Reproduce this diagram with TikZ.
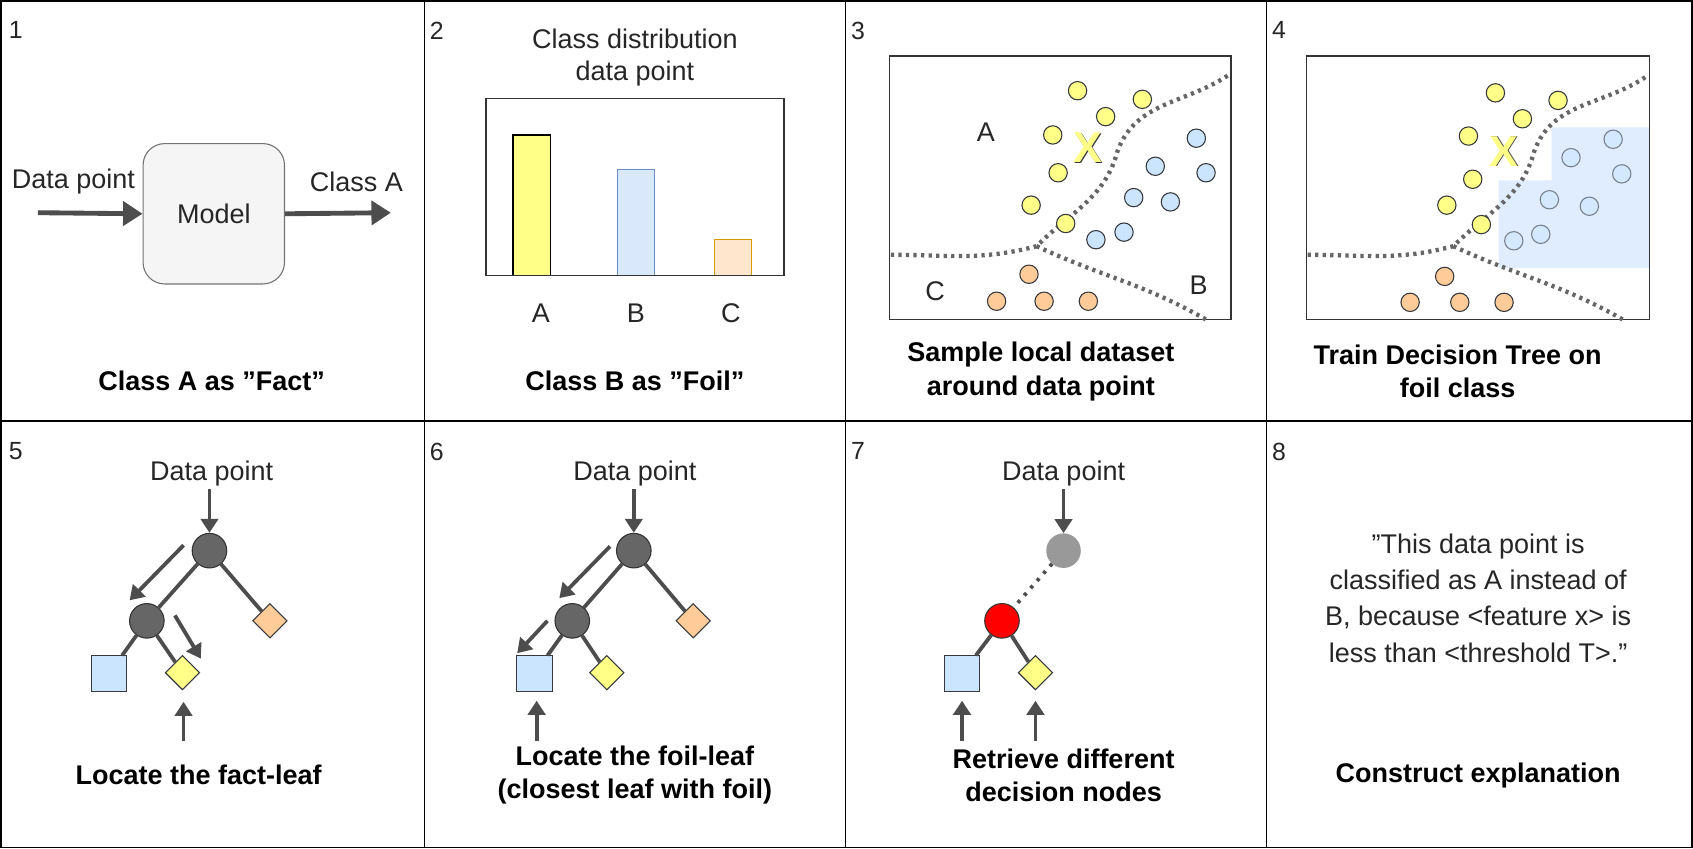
\documentclass[tikz,border=0pt]{standalone}
\usepackage{fontspec}
\setmainfont{Liberation Sans}[Ligatures=NoCommon]
\usetikzlibrary{arrows.meta,shapes.geometric}
\definecolor{ar}{HTML}{4D4D4D}
\definecolor{yl}{HTML}{FFFF88}
\definecolor{bl}{HTML}{CCE5FF}
\definecolor{og}{HTML}{FFCC99}
\definecolor{st}{HTML}{36393D}
\definecolor{bbf}{HTML}{DAE8FC}
\definecolor{bbs}{HTML}{6C8EBF}
\definecolor{cbf}{HTML}{FFE6CC}
\definecolor{cbs}{HTML}{D79B00}
\newcommand{\dq}{\symbol{34}}
\begin{document}
\begin{tikzpicture}[x=1pt,y=-1pt,
 txt/.style={font=\fontsize{25}{28}\selectfont, text=black!85, inner sep=0pt},
 capt/.style={font=\fontsize{25}{31}\selectfont\bfseries, align=center, inner sep=0pt},
 num/.style={font=\fontsize{23}{26}\selectfont, text=black!85, anchor=north west, inner sep=0pt},
 arr/.style={draw=ar, line width=4.5pt, -{Triangle[length=18pt,width=22pt]}},
 sarr/.style={draw=ar, line width=3.5pt, -{Triangle[length=13pt,width=16pt]}},
 edge/.style={draw=ar, line width=3.5pt},
 dc/.style={circle, minimum size=32pt, inner sep=0pt, fill=black!60, draw=black!80, line width=1pt},
 pt/.style={circle, minimum size=17pt, inner sep=0pt, draw=st, line width=1pt},
 yp/.style={pt, fill=yl}, bp/.style={pt, fill=bl}, op/.style={pt, fill=og},
 lsq/.style={rectangle, minimum size=33pt, inner sep=0pt, fill=bl, draw=st, line width=1pt},
 ldm/.style={diamond, minimum size=32pt, inner sep=0pt, draw=st, line width=1pt},
 dline/.style={draw=black!60, line width=4pt, dash pattern=on 3pt off 4pt},
 box/.style={draw=black!80, line width=1.2pt},
 bx/.style={font=\fontsize{40}{40}\selectfont\bfseries, inner sep=0pt}]
\useasboundingbox (0,0) rectangle (1568,786);
\draw[line width=1.5pt] (1,1) rectangle (1567,785);
\draw[line width=1.2pt] (1,390) -- (1567,390) (393,1) -- (393,785) (783,1) -- (783,785) (1173,1) -- (1173,785);
% panel 1
\node[num] (n1) at (8,20) {1};
\node[rectangle, rounded corners=20pt, minimum width=131pt, minimum height=130pt, fill=black!4, draw=black!55, line width=1pt, txt] (model) at (198,198) {Model};
\coordinate (in) at (35,197);
\coordinate (out) at (362,197);
\draw[arr] (in) -- (model.west);
\draw[arr] (model.east) -- (out);
\node[txt] (dp1) at (68,168) {Data point};
\node[txt] (ca) at (330,168) {Class A};
\node[capt] (c1) at (196,353) {Class A as \dq Fact\dq};
% panel 2
\node[num] (n2) at (398,20) {2};
\node[txt, align=center, font=\fontsize{25}{30}\selectfont] (t2) at (588,53) {Class distribution\\data point};
\draw[box] (450,91) rectangle (726,255);
\draw[fill=yl, draw=black, line width=1.2pt] (475,125) rectangle (510,255);
\draw[fill=bbf, draw=bbs, line width=1.2pt] (572,157) rectangle (606,255);
\draw[fill=cbf, draw=cbs, line width=1.2pt] (662,222) rectangle (696,255);
\draw[line width=1.2pt, black!80] (450,255) -- (726,255);
\node[txt] (la) at (501,290) {A};
\node[txt] (lb) at (589,290) {B};
\node[txt] (lc) at (677,290) {C};
\node[capt] (c2) at (588,353) {Class B as \dq Foil\dq};
% panel 3
\node[num] (n3) at (788,20) {3};
\draw[box] (824,52) rectangle (1140,296);
\draw[dline] (825,236) to[out=0,in=195] (960,228) to[out=45,in=255] (1035,140) to[out=70,in=215] (1140,68);
\draw[dline] (960,228) to[out=-25,in=150] (1117,296);
\foreach \p/\q [count=\i] in {998/84,1058/92,1024/108,975/125,980/160,955/190,987/207} \node[yp] (ya\i) at (\p,\q) {};
\foreach \p/\q [count=\i] in {1108/128,1070/154,1117/160,1050/183,1084/187,1041/215,1015/222} \node[bp] (ba\i) at (\p,\q) {};
\foreach \p/\q [count=\i] in {953/254,923/279,967/279,1008/279} \node[op] (oa\i) at (\p,\q) {};
\node[bx, text=st] (xas) at (1008.8,137.8) {X};
\node[bx, text=yl] (xa) at (1008,137) {X};
\node[txt] (ta) at (913,122) {A};
\node[txt] (tb) at (1110,264) {B};
\node[txt] (tc) at (866,270) {C};
\node[capt] (c3) at (964,344) {Sample local dataset\\around data point};
% panel 4
\node[num] (n4) at (1178,20) {4};
\fill[blue!60!cyan, opacity=0.12] (1388,167) -- (1437,167) -- (1437,118) -- (1528,118) -- (1528,248) -- (1388,248) -- cycle;
\draw[box] (1210,52) rectangle (1528,296);
\draw[dline] (1211,236) to[out=0,in=195] (1346,228) to[out=45,in=255] (1421,140) to[out=70,in=215] (1526,70);
\draw[dline] (1346,228) to[out=-25,in=150] (1503,296);
\foreach \p/\q [count=\i] in {1385/86,1443/93,1410/110,1360/126,1364/166,1340/190,1372/208} \node[yp] (yb\i) at (\p,\q) {};
\foreach \p/\q [count=\i] in {1494/129,1455/146,1502/161,1435/185,1472/191,1427/217,1402/223} \node[bp, opacity=0.6] (bb\i) at (\p,\q) {};
\foreach \p/\q [count=\i] in {1338/256,1306/280,1352/280,1393/280} \node[op] (ob\i) at (\p,\q) {};
\node[bx, text=st] (xbs) at (1393.8,140.8) {X};
\node[bx, text=yl] (xb) at (1393,140) {X};
\node[capt] (c4) at (1350,344) {Train Decision Tree on\\foil class};
% panel 5
\node[num] (n5) at (8,410) {5};
\node[txt] (dp5) at (196,439) {Data point};
\node[dc] (r5) at (194,510) {};
\node[dc] (m5) at (136,575) {};
\node[ldm, fill=og] (o5) at (250,575) {};
\node[lsq] (s5) at (101,624) {};
\node[ldm, fill=yl] (y5) at (169,623) {};
\draw[edge] (r5) -- (m5); \draw[edge] (r5) -- (o5);
\draw[edge] (m5) -- (s5); \draw[edge] (m5) -- (y5);
\coordinate (a5s) at (194,453); \draw[sarr] (a5s) -- (r5.north);
\coordinate (p5a) at (170,505); \coordinate (p5b) at (120,556);
\draw[sarr] (p5a) -- (p5b);
\coordinate (p5c) at (162,570); \coordinate (p5d) at (186,610);
\draw[sarr] (p5c) -- (p5d);
\coordinate (u5) at (170,686); \coordinate (u5t) at (170,650);
\draw[sarr] (u5) -- (u5t);
\node[capt] (c5) at (184,718) {Locate the fact-leaf};
% panel 6
\node[num] (n6) at (398,410) {6};
\node[txt] (dp6) at (588,439) {Data point};
\node[dc] (r6) at (587,510) {};
\node[dc] (m6) at (530,575) {};
\node[ldm, fill=og] (o6) at (642,575) {};
\node[lsq] (s6) at (495,624) {};
\node[ldm, fill=yl] (y6) at (562,623) {};
\draw[edge] (r6) -- (m6); \draw[edge] (r6) -- (o6);
\draw[edge] (m6) -- (s6); \draw[edge] (m6) -- (y6);
\coordinate (a6s) at (587,453); \draw[sarr] (a6s) -- (r6.north);
\coordinate (p6a) at (565,506); \coordinate (p6b) at (518,554);
\draw[sarr] (p6a) -- (p6b);
\coordinate (p6c) at (507,575); \coordinate (p6d) at (479,605);
\draw[sarr] (p6c) -- (p6d);
\coordinate (u6) at (497,686); \coordinate (u6t) at (497,649);
\draw[sarr] (u6) -- (u6t);
\node[capt] (c6) at (588,718) {Locate the foil-leaf\\(closest leaf with foil)};
% panel 7
\node[num] (n7) at (788,410) {7};
\node[txt] (dp7) at (985,439) {Data point};
\node[circle, minimum size=32pt, inner sep=0pt, fill=black!40] (r7) at (985,510) {};
\node[circle, minimum size=32pt, inner sep=0pt, fill=red, draw=black!80, line width=1pt] (m7) at (928,575) {};
\node[lsq] (s7) at (891,624) {};
\node[ldm, fill=yl] (y7) at (959,623) {};
\draw[draw=ar, line width=3.5pt, dash pattern=on 3pt off 6pt] (r7) -- (m7);
\draw[edge] (m7) -- (s7); \draw[edge] (m7) -- (y7);
\coordinate (a7s) at (985,453); \draw[sarr] (a7s) -- (r7.north);
\coordinate (u7a) at (891,686); \coordinate (u7at) at (891,649);
\coordinate (u7b) at (959,686); \coordinate (u7bt) at (959,649);
\draw[sarr] (u7a) -- (u7at);
\draw[sarr] (u7b) -- (u7bt);
\node[capt] (c7) at (985,718) {Retrieve different\\decision nodes};
% panel 8
\node[num] (n8) at (1178,410) {8};
\node[txt, align=center, font=\fontsize{25}{33.5}\selectfont] (t8) at (1369,554) {\dq This data point is\\classified as A instead of\\B, because <feature x> is\\less than <threshold T>.\dq};
\node[capt] (c8) at (1369,718) {Construct explanation};
\end{tikzpicture}
\end{document}
